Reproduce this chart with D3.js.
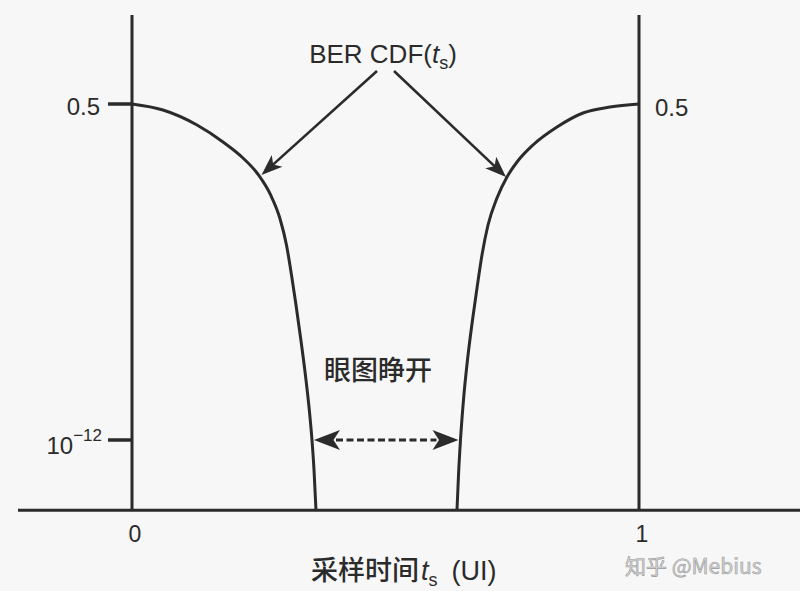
<!DOCTYPE html>
<html>
<head>
<meta charset="utf-8">
<script src="https://cdn.jsdelivr.net/npm/d3@7"></script>
<style>
  html, body { margin: 0; padding: 0; background: #f7f7f7; }
  svg { display: block; }
</style>
</head>
<body>
<svg id="chart" width="800" height="591"></svg>
<script>
// ---- data ----
// left BER CDF (sampling time in UI, BER)
const leftT   = [0, 0.0611, 0.1282, 0.1795, 0.2189, 0.2495, 0.2734, 0.2915, 0.3047, 0.3146, 0.3229, 0.3323, 0.3432, 0.3497, 0.3550, 0.3590, 0.3629];
const leftBER = [0.5, 0.309, 0.0929, 0.0238, 6.59e-3, 1.69e-3, 3.40e-4, 5.37e-5, 6.17e-6, 5.56e-7, 5.89e-8, 3.85e-9, 1.23e-10, 1.11e-11, 1e-12, 9.0e-14, 3.6e-15];
// right BER CDF
const rightT   = [1.0, 0.9428, 0.8895, 0.8383, 0.7909, 0.7594, 0.7396, 0.7199, 0.7022, 0.6903, 0.6805, 0.6716, 0.6617, 0.6538, 0.6479, 0.6440, 0.6410];
const rightBER = [0.5, 0.393, 0.243, 0.0791, 0.0187, 4.79e-3, 1.44e-3, 2.67e-4, 3.06e-5, 2.76e-6, 1.96e-7, 1.51e-8, 6.1e-10, 2.47e-11, 1e-12, 6.05e-14, 3.6e-15];

const xTickValues = [0, 1];
const xTickLabels = ["0", "1"];
const yTickValues = [0.5, 1e-12];
const berFloor = 3.6e-15;          // value at the horizontal axis
const targetBER = 1e-12;           // eye opening measured here
const leftArrowIdx = 5;            // curve points the "BER CDF" arrows point at
const rightArrowIdx = 6;

// ---- layout ----
const svg = d3.select("#chart");
const ink = "#2b2b2b";
const latin = "'Liberation Sans', Arial, sans-serif";
const cjk = "'Noto Sans CJK SC', 'Noto Sans', sans-serif";
const axisTop = 15;

const x = d3.scaleLinear().domain([0, 1]).range([132, 639]);
const y = d3.scaleLog().domain([0.5, 1e-12]).range([104, 440]);
const baseY = y(berFloor);

const leftData = leftT.map((t, i) => ({ t, b: leftBER[i] }));
const rightData = rightT.map((t, i) => ({ t, b: rightBER[i] }));

// ---- axes ----
svg.append("line").attr("x1", 18).attr("x2", 800).attr("y1", baseY).attr("y2", baseY)
  .attr("stroke", ink).attr("stroke-width", 3);
svg.selectAll("line.v").data(xTickValues).enter().append("line").attr("class", "v")
  .attr("x1", d => x(d)).attr("x2", d => x(d))
  .attr("y1", axisTop).attr("y2", baseY)
  .attr("stroke", ink).attr("stroke-width", 3);

svg.selectAll("line.yt").data(yTickValues).enter().append("line").attr("class", "yt")
  .attr("x1", x(0) - 24).attr("x2", x(0)).attr("y1", d => y(d)).attr("y2", d => y(d))
  .attr("stroke", ink).attr("stroke-width", 3.5);

svg.append("text").attr("x", x(0) - 32).attr("y", y(0.5) + 11)
  .attr("text-anchor", "end").attr("font-family", latin).attr("font-size", 24)
  .attr("fill", ink).text("0.5");
svg.append("text").attr("x", x(1) + 16).attr("y", y(0.5) + 12)
  .attr("text-anchor", "start").attr("font-family", latin).attr("font-size", 24)
  .attr("fill", ink).text("0.5");

const t12 = svg.append("text").attr("x", x(0) - 30).attr("y", y(1e-12) + 14)
  .attr("text-anchor", "end").attr("font-family", latin).attr("font-size", 24).attr("fill", ink);
t12.append("tspan").text("10");
t12.append("tspan").attr("font-size", 17).attr("dy", -13).text("\u221212");

svg.selectAll("text.xt").data(xTickValues).enter().append("text").attr("class", "xt")
  .attr("x", d => x(d) + 3).attr("y", baseY + 32)
  .attr("text-anchor", "middle").attr("font-family", latin).attr("font-size", 23)
  .attr("fill", ink).text((d, i) => xTickLabels[i]);

const title = svg.append("text").attr("x", 311).attr("y", 580)
  .attr("font-family", cjk).attr("font-size", 27).attr("font-weight", 500).attr("fill", ink);
title.append("tspan").text("采样时间");
title.append("tspan").attr("font-family", latin).attr("font-style", "italic").attr("font-size", 27).attr("dx", 2).text("t");
title.append("tspan").attr("font-family", latin).attr("font-size", 18).attr("dy", 6).text("s");
title.append("tspan").attr("font-family", latin).attr("font-size", 27).attr("dy", -6).attr("dx", 14).text("(UI)");

// ---- curves ----
const line = d3.line().x(d => x(d.t)).y(d => y(d.b)).curve(d3.curveMonotoneX);
svg.append("path").datum(leftData).attr("d", line)
  .attr("fill", "none").attr("stroke", ink).attr("stroke-width", 3);
svg.append("path").datum(rightData.slice().sort((a, b) => a.t - b.t)).attr("d", line)
  .attr("fill", "none").attr("stroke", ink).attr("stroke-width", 3);

// ---- arrow helper ----
function arrowHead(tipX, tipY, fromX, fromY, len, half) {
  const a = Math.atan2(tipY - fromY, tipX - fromX);
  const bx = tipX - len * Math.cos(a), by = tipY - len * Math.sin(a);
  const nx = -Math.sin(a), ny = Math.cos(a);
  const notch = len * 0.25;
  const mx = bx + notch * Math.cos(a), my = by + notch * Math.sin(a);
  return `M${tipX},${tipY}L${bx + nx * half},${by + ny * half}L${mx},${my}L${bx - nx * half},${by - ny * half}Z`;
}

// ---- "BER CDF(ts)" label + arrows ----
const lbl = svg.append("text").attr("x", 383).attr("y", 63).attr("text-anchor", "middle")
  .attr("font-family", latin).attr("font-size", 26).attr("fill", ink);
lbl.append("tspan").text("BER CDF(");
lbl.append("tspan").attr("font-style", "italic").text("t");
lbl.append("tspan").attr("font-size", 18).attr("dy", 6).text("s");
lbl.append("tspan").attr("dy", -6).text(")");

const starts = [[377, 71, leftData[leftArrowIdx], 3], [394, 71, rightData[rightArrowIdx], -1]];
starts.forEach(([sx, sy, p, off]) => {
  const tx = x(p.t) + off, ty = y(p.b);
  const a = Math.atan2(ty - sy, tx - sx);
  svg.append("line").attr("x1", sx).attr("y1", sy)
    .attr("x2", tx - 14 * Math.cos(a)).attr("y2", ty - 14 * Math.sin(a))
    .attr("stroke", ink).attr("stroke-width", 2.6);
  svg.append("path").attr("d", arrowHead(tx, ty, sx, sy, 21, 8)).attr("fill", ink);
});

// ---- eye opening ----
const li = leftBER.indexOf(targetBER), ri = rightBER.indexOf(targetBER);
const ex1 = x(leftT[li]) + 2, ex2 = x(rightT[ri]) - 2, ey = y(targetBER);
svg.append("line").attr("x1", ex1 + 22).attr("x2", ex2 - 22).attr("y1", ey).attr("y2", ey)
  .attr("stroke", ink).attr("stroke-width", 3).attr("stroke-dasharray", "7,3.5");
svg.append("path").attr("d", arrowHead(ex1, ey, ex2, ey, 26, 10)).attr("fill", ink);
svg.append("path").attr("d", arrowHead(ex2, ey, ex1, ey, 26, 10)).attr("fill", ink);

svg.append("text").attr("x", 378).attr("y", 380).attr("text-anchor", "middle")
  .attr("font-family", cjk).attr("font-size", 27).attr("font-weight", 500).attr("fill", ink)
  .text("眼图睁开");

// ---- watermark ----
svg.append("text").attr("x", 625).attr("y", 574)
  .attr("font-family", cjk).attr("font-size", 21)
  .attr("fill", "#d4d4d4").attr("stroke", "#9c9c9c").attr("stroke-width", 0.6)
  .text("知乎 @Mebius");
</script>
</body>
</html>
